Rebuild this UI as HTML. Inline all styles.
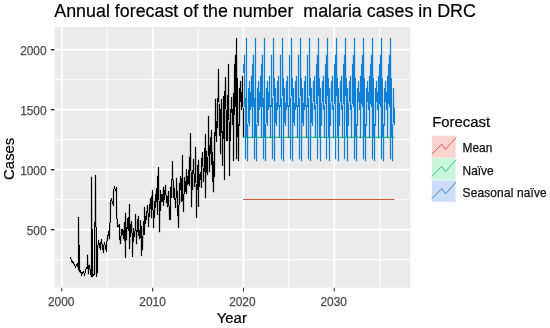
<!DOCTYPE html>
<html><head><meta charset="utf-8"><title>Annual forecast of the number malaria cases in DRC</title>
<style>
html,body{margin:0;padding:0;background:#fff;}
svg{display:block;}
text{font-family:"Liberation Sans",Arial,Helvetica,sans-serif;}
.ax{font-size:11.9px;fill:#4D4D4D;stroke:#4D4D4D;stroke-width:0.25px;}
.lg{font-size:11.9px;fill:#111;stroke:#111;stroke-width:0.25px;}
.at{font-size:14.9px;fill:#000;stroke:#000;stroke-width:0.2px;}
.tt{font-size:17.85px;fill:#000;stroke:#000;stroke-width:0.2px;}
</style></head><body>
<svg width="550" height="328" viewBox="0 0 550 328">
<rect width="550" height="328" fill="#fff"/>
<rect x="54.5" y="27.0" width="355.8" height="260.7" fill="#EBEBEB"/>
<line x1="54.5" x2="410.3" y1="259.7" y2="259.7" stroke="#fff" stroke-width="0.95"/>
<line x1="54.5" x2="410.3" y1="199.7" y2="199.7" stroke="#fff" stroke-width="0.95"/>
<line x1="54.5" x2="410.3" y1="139.7" y2="139.7" stroke="#fff" stroke-width="0.95"/>
<line x1="54.5" x2="410.3" y1="79.7" y2="79.7" stroke="#fff" stroke-width="0.95"/>
<line y1="27.0" y2="287.7" x1="107.22" x2="107.22" stroke="#fff" stroke-width="0.95"/>
<line y1="27.0" y2="287.7" x1="198.05" x2="198.05" stroke="#fff" stroke-width="0.95"/>
<line y1="27.0" y2="287.7" x1="288.88" x2="288.88" stroke="#fff" stroke-width="0.95"/>
<line y1="27.0" y2="287.7" x1="379.71" x2="379.71" stroke="#fff" stroke-width="0.95"/>
<line x1="54.5" x2="410.3" y1="229.7" y2="229.7" stroke="#fff" stroke-width="1.7"/>
<line x1="54.5" x2="410.3" y1="169.7" y2="169.7" stroke="#fff" stroke-width="1.7"/>
<line x1="54.5" x2="410.3" y1="109.7" y2="109.7" stroke="#fff" stroke-width="1.7"/>
<line x1="54.5" x2="410.3" y1="49.7" y2="49.7" stroke="#fff" stroke-width="1.7"/>
<line y1="27.0" y2="287.7" x1="61.8" x2="61.8" stroke="#fff" stroke-width="1.7"/>
<line y1="27.0" y2="287.7" x1="152.63" x2="152.63" stroke="#fff" stroke-width="1.7"/>
<line y1="27.0" y2="287.7" x1="243.46" x2="243.46" stroke="#fff" stroke-width="1.7"/>
<line y1="27.0" y2="287.7" x1="334.29" x2="334.29" stroke="#fff" stroke-width="1.7"/>
<polyline points="70.5,257.2 71.5,260 72.5,263 72.5,261 73.5,262.5 74.5,265 75.5,266.5 75.5,267.4 76.5,265 77.5,263.8 78.5,270 78.5,217.3 79.5,272 80.5,271 81.5,274 81.5,275.5 82.5,273 83.5,271.8 84.5,274 84.5,275.5 85.5,270 86.5,267.4 87.5,268 87.5,255 88.5,274 89.5,265.2 90.5,272 91.5,276.9 91.5,177 92.5,276.2 93.5,275 94.5,274 94.5,272 95.5,176 96.5,276.2 97.5,270 97.5,250 98.5,240.4 99.5,245 100.5,249.9 100.5,244 101.5,240 102.5,247 103.5,252.8 103.5,247 104.5,242.6 105.5,248 106.5,251.4 106.5,245 107.5,238 108.5,232 109.5,239 110.5,208 110.5,202 111.5,199 112.5,203 113.5,205.6 113.5,192 114.5,186.6 115.5,191 116.5,188 116.5,210 117.5,227 118.5,226 119.5,224.7 119.5,236.4 120.5,243.5 121.5,229.09 122.5,234.56 122.5,229.38 123.5,239 124.5,222.5 125.5,257.3 125.5,213.2 126.5,240 127.5,218.57 128.5,230.18 129.5,204.9 129.5,248.5 130.5,225.95 131.5,221.9 132.5,243.5 132.5,256.2 133.5,228.58 134.5,236.79 135.5,226.17 135.5,214.3 136.5,244 137.5,221.16 138.5,216.4 138.5,231.8 139.5,239 140.5,220.81 141.5,255.6 141.5,226.1 142.5,249.6 143.5,221.81 144.5,234.08 144.5,207.1 145.5,223.92 146.5,217.18 147.5,205.5 148.5,219.45 148.5,226.3 149.5,208.82 150.5,199 151.5,217.66 151.5,201.09 152.5,191 153.5,227.6 154.5,201.48 154.5,217.46 155.5,198.67 156.5,188.8 157.5,214.24 157.5,184.29 158.5,168 159.5,232 160.5,191 160.5,210.7 161.5,194.89 162.5,201.05 163.5,187.3 163.5,205.6 164.5,194.07 165.5,185.8 166.5,202.9 167.5,196.68 167.5,206.97 168.5,191.7 169.5,219.5 170.5,219.5 170.5,187.16 171.5,197.98 172.5,161.9 173.5,197.26 173.5,184.44 174.5,191.47 175.5,207.8 176.5,188.5 176.5,178 177.5,203.52 178.5,227.5 179.5,183.08 179.5,204.37 180.5,176.8 181.5,201.13 182.5,155.4 182.5,190.97 183.5,211.4 184.5,177.04 185.5,191.8 186.5,170 186.5,193.56 187.5,176.66 188.5,183.63 189.5,157.19 189.5,185.7 190.5,134 191.5,207 192.5,170.51 192.5,189.87 193.5,160 194.5,186.88 195.5,169.11 195.5,147.3 196.5,217.3 197.5,165.46 198.5,206.3 198.5,160 199.5,186.47 200.5,172.98 201.5,187.26 201.5,164.25 202.5,153 203.5,181.61 204.5,162.59 205.5,134.2 205.5,197.5 206.5,151.46 207.5,174.83 208.5,139.68 208.5,116.4 209.5,171.9 210.5,137.17 211.5,164.71 211.5,130 212.5,171.15 213.5,191.9 214.5,132.23 214.5,176.5 215.5,99.1 216.5,141.04 217.5,101.86 217.5,127.75 218.5,69.3 219.5,135.28 220.5,109.15 220.5,153.9 221.5,100 222.5,165.2 223.5,97 224.5,179.5 224.5,104.94 225.5,77.5 226.5,140.67 227.5,95.63 227.5,140.48 228.5,64.4 229.5,175.5 230.5,109.72 230.5,129.44 231.5,97.87 232.5,124.21 233.5,93.05 233.5,160.5 234.5,72.74 235.5,55.1 236.5,158.9 236.5,38.66 237.5,113.3 238.5,160.7 239.5,88.7 239.5,125.06 240.5,81.26 241.5,109.46 242.5,76.46 243.5,137.42" fill="none" stroke="#000" stroke-width="1.8" stroke-opacity="0.25" stroke-linejoin="round"/>
<polyline points="70.5,257.2 71.5,260 72.5,263 72.5,261 73.5,262.5 74.5,265 75.5,266.5 75.5,267.4 76.5,265 77.5,263.8 78.5,270 78.5,217.3 79.5,272 80.5,271 81.5,274 81.5,275.5 82.5,273 83.5,271.8 84.5,274 84.5,275.5 85.5,270 86.5,267.4 87.5,268 87.5,255 88.5,274 89.5,265.2 90.5,272 91.5,276.9 91.5,177 92.5,276.2 93.5,275 94.5,274 94.5,272 95.5,176 96.5,276.2 97.5,270 97.5,250 98.5,240.4 99.5,245 100.5,249.9 100.5,244 101.5,240 102.5,247 103.5,252.8 103.5,247 104.5,242.6 105.5,248 106.5,251.4 106.5,245 107.5,238 108.5,232 109.5,239 110.5,208 110.5,202 111.5,199 112.5,203 113.5,205.6 113.5,192 114.5,186.6 115.5,191 116.5,188 116.5,210 117.5,227 118.5,226 119.5,224.7 119.5,236.4 120.5,243.5 121.5,229.09 122.5,234.56 122.5,229.38 123.5,239 124.5,222.5 125.5,257.3 125.5,213.2 126.5,240 127.5,218.57 128.5,230.18 129.5,204.9 129.5,248.5 130.5,225.95 131.5,221.9 132.5,243.5 132.5,256.2 133.5,228.58 134.5,236.79 135.5,226.17 135.5,214.3 136.5,244 137.5,221.16 138.5,216.4 138.5,231.8 139.5,239 140.5,220.81 141.5,255.6 141.5,226.1 142.5,249.6 143.5,221.81 144.5,234.08 144.5,207.1 145.5,223.92 146.5,217.18 147.5,205.5 148.5,219.45 148.5,226.3 149.5,208.82 150.5,199 151.5,217.66 151.5,201.09 152.5,191 153.5,227.6 154.5,201.48 154.5,217.46 155.5,198.67 156.5,188.8 157.5,214.24 157.5,184.29 158.5,168 159.5,232 160.5,191 160.5,210.7 161.5,194.89 162.5,201.05 163.5,187.3 163.5,205.6 164.5,194.07 165.5,185.8 166.5,202.9 167.5,196.68 167.5,206.97 168.5,191.7 169.5,219.5 170.5,219.5 170.5,187.16 171.5,197.98 172.5,161.9 173.5,197.26 173.5,184.44 174.5,191.47 175.5,207.8 176.5,188.5 176.5,178 177.5,203.52 178.5,227.5 179.5,183.08 179.5,204.37 180.5,176.8 181.5,201.13 182.5,155.4 182.5,190.97 183.5,211.4 184.5,177.04 185.5,191.8 186.5,170 186.5,193.56 187.5,176.66 188.5,183.63 189.5,157.19 189.5,185.7 190.5,134 191.5,207 192.5,170.51 192.5,189.87 193.5,160 194.5,186.88 195.5,169.11 195.5,147.3 196.5,217.3 197.5,165.46 198.5,206.3 198.5,160 199.5,186.47 200.5,172.98 201.5,187.26 201.5,164.25 202.5,153 203.5,181.61 204.5,162.59 205.5,134.2 205.5,197.5 206.5,151.46 207.5,174.83 208.5,139.68 208.5,116.4 209.5,171.9 210.5,137.17 211.5,164.71 211.5,130 212.5,171.15 213.5,191.9 214.5,132.23 214.5,176.5 215.5,99.1 216.5,141.04 217.5,101.86 217.5,127.75 218.5,69.3 219.5,135.28 220.5,109.15 220.5,153.9 221.5,100 222.5,165.2 223.5,97 224.5,179.5 224.5,104.94 225.5,77.5 226.5,140.67 227.5,95.63 227.5,140.48 228.5,64.4 229.5,175.5 230.5,109.72 230.5,129.44 231.5,97.87 232.5,124.21 233.5,93.05 233.5,160.5 234.5,72.74 235.5,55.1 236.5,158.9 236.5,38.66 237.5,113.3 238.5,160.7 239.5,88.7 239.5,125.06 240.5,81.26 241.5,109.46 242.5,76.46 243.5,137.42" fill="none" stroke="#000" stroke-width="1" stroke-linejoin="round" shape-rendering="crispEdges"/>
<line x1="243" x2="394.4" y1="199.5" y2="199.5" stroke="#CB5A3E" stroke-width="1.15"/>
<line x1="243" x2="394.4" y1="137.4" y2="137.4" stroke="#17C865" stroke-width="1.15"/>
<polyline points="243.5,72.74 244.5,55.1 245.5,158.9 246.5,38.66 246.5,113.3 247.5,160.7 248.5,88.7 249.5,125.06 249.5,81.26 250.5,109.46 251.5,76.46 252.5,137.42 252.5,72.74 253.5,55.1 254.5,158.9 255.5,38.66 255.5,113.3 256.5,160.7 257.5,88.7 258.5,125.06 258.5,81.26 259.5,109.46 260.5,76.46 261.5,137.42 261.5,72.74 262.5,55.1 263.5,158.9 264.5,38.66 264.5,113.3 265.5,160.7 266.5,88.7 267.5,125.06 267.5,81.26 268.5,109.46 269.5,76.46 270.5,137.42 271.5,72.74 271.5,55.1 272.5,158.9 273.5,38.66 274.5,113.3 274.5,160.7 275.5,88.7 276.5,125.06 277.5,81.26 277.5,109.46 278.5,76.46 279.5,137.42 280.5,72.74 280.5,55.1 281.5,158.9 282.5,38.66 283.5,113.3 283.5,160.7 284.5,88.7 285.5,125.06 286.5,81.26 286.5,109.46 287.5,76.46 288.5,137.42 289.5,72.74 289.5,55.1 290.5,158.9 291.5,38.66 292.5,113.3 292.5,160.7 293.5,88.7 294.5,125.06 295.5,81.26 295.5,109.46 296.5,76.46 297.5,137.42 298.5,72.74 298.5,55.1 299.5,158.9 300.5,38.66 301.5,113.3 301.5,160.7 302.5,88.7 303.5,125.06 304.5,81.26 304.5,109.46 305.5,76.46 306.5,137.42 307.5,72.74 307.5,55.1 308.5,158.9 309.5,38.66 310.5,113.3 310.5,160.7 311.5,88.7 312.5,125.06 313.5,81.26 314.5,109.46 314.5,76.46 315.5,137.42 316.5,72.74 317.5,55.1 317.5,158.9 318.5,38.66 319.5,113.3 320.5,160.7 320.5,88.7 321.5,125.06 322.5,81.26 323.5,109.46 323.5,76.46 324.5,137.42 325.5,72.74 326.5,55.1 326.5,158.9 327.5,38.66 328.5,113.3 329.5,160.7 329.5,88.7 330.5,125.06 331.5,81.26 332.5,109.46 332.5,76.46 333.5,137.42 334.5,72.74 335.5,55.1 335.5,158.9 336.5,38.66 337.5,113.3 338.5,160.7 338.5,88.7 339.5,125.06 340.5,81.26 341.5,109.46 341.5,76.46 342.5,137.42 343.5,72.74 344.5,55.1 344.5,158.9 345.5,38.66 346.5,113.3 347.5,160.7 347.5,88.7 348.5,125.06 349.5,81.26 350.5,109.46 350.5,76.46 351.5,137.42 352.5,72.74 353.5,55.1 354.5,158.9 354.5,38.66 355.5,113.3 356.5,160.7 357.5,88.7 357.5,125.06 358.5,81.26 359.5,109.46 360.5,76.46 360.5,137.42 361.5,72.74 362.5,55.1 363.5,158.9 363.5,38.66 364.5,113.3 365.5,160.7 366.5,88.7 366.5,125.06 367.5,81.26 368.5,109.46 369.5,76.46 369.5,137.42 370.5,72.74 371.5,55.1 372.5,158.9 372.5,38.66 373.5,113.3 374.5,160.7 375.5,88.7 375.5,125.06 376.5,81.26 377.5,109.46 378.5,76.46 378.5,137.42 379.5,72.74 380.5,55.1 381.5,158.9 381.5,38.66 382.5,113.3 383.5,160.7 384.5,88.7 384.5,125.06 385.5,81.26 386.5,109.46 387.5,76.46 387.5,137.42 388.5,72.74 389.5,55.1 390.5,158.9 390.5,38.66 391.5,113.3 392.5,160.7 393.5,88.7 394.5,125.06" fill="none" stroke="#0F80D6" stroke-width="1.8" stroke-opacity="0.25" stroke-linejoin="round"/>
<polyline points="243.5,72.74 244.5,55.1 245.5,158.9 246.5,38.66 246.5,113.3 247.5,160.7 248.5,88.7 249.5,125.06 249.5,81.26 250.5,109.46 251.5,76.46 252.5,137.42 252.5,72.74 253.5,55.1 254.5,158.9 255.5,38.66 255.5,113.3 256.5,160.7 257.5,88.7 258.5,125.06 258.5,81.26 259.5,109.46 260.5,76.46 261.5,137.42 261.5,72.74 262.5,55.1 263.5,158.9 264.5,38.66 264.5,113.3 265.5,160.7 266.5,88.7 267.5,125.06 267.5,81.26 268.5,109.46 269.5,76.46 270.5,137.42 271.5,72.74 271.5,55.1 272.5,158.9 273.5,38.66 274.5,113.3 274.5,160.7 275.5,88.7 276.5,125.06 277.5,81.26 277.5,109.46 278.5,76.46 279.5,137.42 280.5,72.74 280.5,55.1 281.5,158.9 282.5,38.66 283.5,113.3 283.5,160.7 284.5,88.7 285.5,125.06 286.5,81.26 286.5,109.46 287.5,76.46 288.5,137.42 289.5,72.74 289.5,55.1 290.5,158.9 291.5,38.66 292.5,113.3 292.5,160.7 293.5,88.7 294.5,125.06 295.5,81.26 295.5,109.46 296.5,76.46 297.5,137.42 298.5,72.74 298.5,55.1 299.5,158.9 300.5,38.66 301.5,113.3 301.5,160.7 302.5,88.7 303.5,125.06 304.5,81.26 304.5,109.46 305.5,76.46 306.5,137.42 307.5,72.74 307.5,55.1 308.5,158.9 309.5,38.66 310.5,113.3 310.5,160.7 311.5,88.7 312.5,125.06 313.5,81.26 314.5,109.46 314.5,76.46 315.5,137.42 316.5,72.74 317.5,55.1 317.5,158.9 318.5,38.66 319.5,113.3 320.5,160.7 320.5,88.7 321.5,125.06 322.5,81.26 323.5,109.46 323.5,76.46 324.5,137.42 325.5,72.74 326.5,55.1 326.5,158.9 327.5,38.66 328.5,113.3 329.5,160.7 329.5,88.7 330.5,125.06 331.5,81.26 332.5,109.46 332.5,76.46 333.5,137.42 334.5,72.74 335.5,55.1 335.5,158.9 336.5,38.66 337.5,113.3 338.5,160.7 338.5,88.7 339.5,125.06 340.5,81.26 341.5,109.46 341.5,76.46 342.5,137.42 343.5,72.74 344.5,55.1 344.5,158.9 345.5,38.66 346.5,113.3 347.5,160.7 347.5,88.7 348.5,125.06 349.5,81.26 350.5,109.46 350.5,76.46 351.5,137.42 352.5,72.74 353.5,55.1 354.5,158.9 354.5,38.66 355.5,113.3 356.5,160.7 357.5,88.7 357.5,125.06 358.5,81.26 359.5,109.46 360.5,76.46 360.5,137.42 361.5,72.74 362.5,55.1 363.5,158.9 363.5,38.66 364.5,113.3 365.5,160.7 366.5,88.7 366.5,125.06 367.5,81.26 368.5,109.46 369.5,76.46 369.5,137.42 370.5,72.74 371.5,55.1 372.5,158.9 372.5,38.66 373.5,113.3 374.5,160.7 375.5,88.7 375.5,125.06 376.5,81.26 377.5,109.46 378.5,76.46 378.5,137.42 379.5,72.74 380.5,55.1 381.5,158.9 381.5,38.66 382.5,113.3 383.5,160.7 384.5,88.7 384.5,125.06 385.5,81.26 386.5,109.46 387.5,76.46 387.5,137.42 388.5,72.74 389.5,55.1 390.5,158.9 390.5,38.66 391.5,113.3 392.5,160.7 393.5,88.7 394.5,125.06" fill="none" stroke="#0F80D6" stroke-width="1" stroke-linejoin="round" shape-rendering="crispEdges"/>
<line x1="50.7" x2="54.5" y1="229.7" y2="229.7" stroke="#333" stroke-width="1.35"/>
<line x1="50.7" x2="54.5" y1="169.7" y2="169.7" stroke="#333" stroke-width="1.35"/>
<line x1="50.7" x2="54.5" y1="109.7" y2="109.7" stroke="#333" stroke-width="1.35"/>
<line x1="50.7" x2="54.5" y1="49.7" y2="49.7" stroke="#333" stroke-width="1.35"/>
<line y1="287.7" y2="291.5" x1="61.8" x2="61.8" stroke="#333" stroke-width="1.05"/>
<line y1="287.7" y2="291.5" x1="152.63" x2="152.63" stroke="#333" stroke-width="1.05"/>
<line y1="287.7" y2="291.5" x1="243.46" x2="243.46" stroke="#333" stroke-width="1.05"/>
<line y1="287.7" y2="291.5" x1="334.29" x2="334.29" stroke="#333" stroke-width="1.05"/>
<text x="46.6" y="235.2" text-anchor="end" class="ax">500</text>
<text x="46.6" y="175.2" text-anchor="end" class="ax">1000</text>
<text x="46.6" y="115.2" text-anchor="end" class="ax">1500</text>
<text x="46.6" y="55.2" text-anchor="end" class="ax">2000</text>
<text x="61.2" y="305.9" text-anchor="middle" class="ax">2000</text>
<text x="152.53" y="305.9" text-anchor="middle" class="ax">2010</text>
<text x="242.36" y="305.9" text-anchor="middle" class="ax">2020</text>
<text x="333.69" y="305.9" text-anchor="middle" class="ax">2030</text>
<text x="54.3" y="17" class="tt" xml:space="preserve" style="white-space:pre">Annual forecast of the number  malaria cases in DRC</text>
<text x="231.8" y="322.5" text-anchor="middle" class="at">Year</text>
<text transform="translate(13.8,158.8) rotate(-90)" text-anchor="middle" class="at">Cases</text>
<text x="432.2" y="127.1" class="at">Forecast</text>
<rect x="431.9" y="135.7" width="23.7" height="22.25" fill="#FAD3CF"/>
<polyline points="431.9,154.17 441.74,144.16 445.53,149.38 455.96,137.59" fill="none" stroke="#DC6453" stroke-width="1.0" stroke-linejoin="round"/>
<text x="462.6" y="152.3" class="lg">Mean</text>
<rect x="431.9" y="157.95" width="23.7" height="22.25" fill="#C9F5DB"/>
<line x1="431.9" x2="455.6" y1="157.95" y2="157.95" stroke="#fff" stroke-width="0.7" stroke-opacity="0.6"/>
<polyline points="431.9,176.42 441.74,166.41 445.53,171.63 455.96,159.84" fill="none" stroke="#2FCB7E" stroke-width="1.0" stroke-linejoin="round"/>
<text x="462.6" y="174.6" class="lg">Naïve</text>
<rect x="431.9" y="180.2" width="23.7" height="21.6" fill="#CDDDF8"/>
<line x1="431.9" x2="455.6" y1="180.2" y2="180.2" stroke="#fff" stroke-width="0.7" stroke-opacity="0.6"/>
<polyline points="431.9,198.67 441.74,188.66 445.53,193.88 455.96,182.09" fill="none" stroke="#3D8FDC" stroke-width="1.0" stroke-linejoin="round"/>
<text x="462.6" y="196.9" class="lg" letter-spacing="0.16">Seasonal naïve</text>
</svg>
</body></html>
